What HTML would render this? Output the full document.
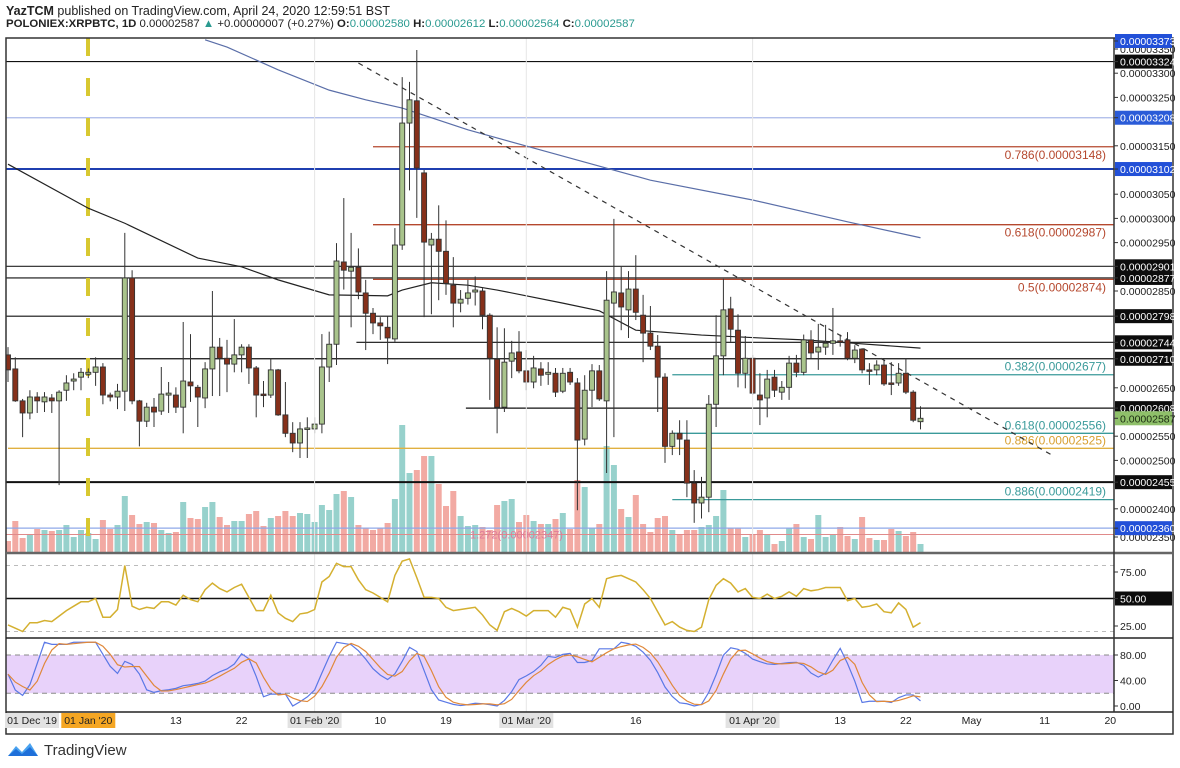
<!DOCTYPE html>
<html><head><meta charset="utf-8"><title>POLONIEX:XRPBTC 1D</title>
<style>
html,body{margin:0;padding:0;background:#fff;}
body{width:1180px;height:768px;overflow:hidden;position:relative;font-family:"Liberation Sans",sans-serif;}
#hdr1{position:absolute;left:6px;top:4px;font-size:12.5px;color:#222;white-space:nowrap;}
#hdr2{position:absolute;left:6px;top:18px;font-size:11.4px;color:#222;white-space:nowrap;}
.tl{color:#2a9a90;}
svg{position:absolute;left:0;top:0;}
#logo{position:absolute;left:6px;top:740px;font-size:15px;color:#333;display:flex;align-items:center;gap:4px;}
</style></head>
<body>
<div id="hdr1"><b>YazTCM</b> published on TradingView.com, April 24, 2020 12:59:51 BST</div>
<div id="hdr2"><b>POLONIEX:XRPBTC, 1D</b> 0.00002587 <span class="tl">▲</span> +0.00000007 (+0.27%) <b>O:</b><span class="tl">0.00002580</span> <b>H:</b><span class="tl">0.00002612</span> <b>L:</b><span class="tl">0.00002564</span> <b>C:</b><span class="tl">0.00002587</span></div>
<svg id="chart" width="1180" height="768"></svg>
<div id="logo">
<svg width="34" height="20" style="position:static"><path d="M2 16 L10 6 L16 12 L24 3 L32 16 Z" fill="#4aa3f0"/><path d="M2 16 L10 9 L16 14 L24 7 L32 16 Z" fill="#1e6fd9"/></svg><span>TradingView</span></div>
<script>
const opens=[2718,2689,2623,2598,2631,2621,2629,2623,2645,2664,2672,2678,2682,2693,2635,2631,2643,2877,2623,2581,2610,2602,2635,2635,2610,2662,2651,2629,2689,2734,2711,2699,2718,2734,2691,2637,2635,2687,2594,2556,2536,2565,2565,2575,2693,2740,2910,2891,2899,2846,2804,2784,2775,2751,2945,3197,3243,3094,2945,2957,2932,2862,2825,2835,2848,2850,2800,2709,2610,2705,2724,2685,2662,2689,2678,2680,2643,2682,2660,2544,2645,2685,2623,2825,2846,2811,2854,2800,2763,2736,2672,2529,2556,2542,2453,2412,2424,2616,2716,2813,2769,2680,2711,2635,2629,2672,2641,2651,2701,2682,2749,2724,2734,2742,2747,2749,2711,2730,2687,2687,2697,2660,2660,2680,2641,2580];
const highs=[2734,2713,2627,2645,2641,2641,2637,2645,2676,2680,2691,2690,2713,2701,2640,2658,2970,2893,2625,2619,2629,2693,2662,2651,2786,2761,2656,2703,2850,2753,2749,2792,2740,2740,2695,2664,2711,2689,2662,2579,2579,2589,2589,2761,2766,2949,3042,2970,2938,2873,2815,2796,2798,2980,3292,3282,3348,3100,2970,3027,2996,2920,2852,2873,2880,2856,2804,2775,2773,2747,2767,2728,2716,2703,2703,2691,2691,2691,2670,2676,2699,2697,2891,2999,2900,2891,2924,2842,2819,2759,2680,2562,2583,2583,2480,2466,2635,2800,2875,2838,2802,2757,2718,2680,2687,2687,2664,2716,2718,2760,2769,2782,2780,2815,2760,2765,2738,2732,2701,2707,2707,2703,2701,2711,2645,2612];
const lows=[2662,2621,2548,2585,2598,2600,2598,2449,2623,2645,2645,2670,2654,2616,2622,2606,2602,2616,2529,2569,2569,2594,2598,2598,2556,2621,2569,2608,2633,2633,2641,2682,2682,2658,2589,2610,2629,2592,2548,2517,2505,2505,2556,2556,2662,2697,2853,2775,2833,2728,2761,2749,2699,2745,2935,3058,3001,2796,2802,2831,2842,2775,2806,2822,2820,2771,2625,2556,2600,2670,2680,2645,2649,2654,2656,2631,2639,2656,2397,2531,2610,2623,2474,2548,2769,2753,2790,2703,2728,2600,2495,2511,2511,2424,2371,2380,2393,2569,2676,2745,2651,2649,2635,2573,2589,2631,2625,2625,2672,2676,2711,2687,2718,2718,2735,2707,2701,2680,2656,2676,2654,2635,2654,2637,2579,2564];
const closes=[2687,2623,2598,2631,2623,2631,2623,2641,2660,2668,2682,2682,2693,2635,2631,2643,2877,2623,2581,2610,2600,2637,2639,2610,2664,2654,2631,2689,2734,2711,2699,2718,2734,2691,2635,2635,2687,2594,2556,2536,2565,2567,2575,2693,2740,2912,2893,2899,2848,2804,2784,2778,2753,2945,3197,3245,3104,2951,2957,2932,2866,2825,2833,2846,2852,2800,2711,2610,2703,2722,2685,2662,2691,2676,2682,2641,2680,2662,2542,2645,2685,2627,2831,2848,2817,2854,2806,2763,2736,2672,2529,2556,2544,2453,2412,2424,2616,2716,2811,2771,2680,2711,2639,2625,2668,2645,2651,2701,2682,2749,2722,2734,2742,2747,2745,2711,2728,2687,2685,2697,2658,2658,2680,2641,2583,2587];
const volumes=[12,32,15,19,24,23,22,23,28,16,23,20,14,33,24,28,57,38,29,31,30,23,20,21,51,35,34,46,51,36,28,32,32,39,42,27,35,37,42,37,40,39,31,48,43,59,62,56,28,25,23,25,30,54,128,80,83,97,97,69,47,62,37,27,28,26,23,48,52,54,31,38,32,29,29,34,40,24,73,66,25,29,107,88,44,36,58,29,21,35,37,23,18,23,23,26,28,37,63,25,25,16,19,23,19,9,12,25,29,16,14,38,16,18,26,17,14,36,15,13,13,24,22,17,21,9];
const rsiValues=[26,23,20,28,28,30,29,34,39,43,47,47,50,33,33,40,80,43,40,42,41,47,47,44,53,49,47,58,64,59,56,60,63,51,39,39,53,37,32,29,36,37,40,65,70,82,79,79,67,58,55,51,47,71,84,86,69,51,51,50,42,39,40,41,42,35,26,21,38,41,38,34,39,39,39,33,42,40,24,45,50,42,68,70,71,68,65,58,50,38,26,29,24,21,20,24,49,62,68,64,56,59,51,50,54,50,52,56,52,59,57,58,60,60,60,48,50,42,43,45,38,37,46,40,24,28];
const ma200Idx=[27,30,37,44,49,54,63,74,88,102,115,125];
const ma200Val=[3369,3354,3307,3265,3245,3228,3183,3137,3079,3038,2993,2960];
const ma100Idx=[0,11,16,26,32,37,44,52,54,58,63,67,76,81,86,95,103,109,115,125];
const ma100Val=[3112,3021,2990,2918,2900,2873,2842,2840,2852,2867,2862,2852,2825,2809,2769,2759,2753,2749,2743,2732];
const priceTicks=[3350,3300,3250,3150,3050,3000,2950,2850,2650,2550,2500,2400,2350];
const levelPrices=[3324,3208,3102,2901,2877,2798,2744,2710,2608,2455,2360];
const levelStart=[0,0,0,0,0,0,48,0,63,0,0];
const levelKind=['black','lightblue','blue','dark','black','black','black','black','black','black','blue'];
const fibLabels=['0.786(0.00003148)','0.618(0.00002987)','0.5(0.00002874)','0.382(0.00002677)','0.618(0.00002556)','0.886(0.00002525)','0.886(0.00002419)'];
const fibPrices=[3148,2987,2874,2677,2556,2525,2419];
const fibStart=[50,50,50,91,91,0,91];
const fibColor=['#b5482e','#b5482e','#b5482e','#3a9a9a','#3a9a9a','#e0b040','#3a9a9a'];
const timeLabels=["01 Dec '19","01 Jan '20","13","22","01 Feb '20","10","19","01 Mar '20","16","01 Apr '20","13","22","May","11","20"];
const timeIdx=[-1,11,23,32,42,51,60,71,86,102,114,123,132,142,151];
const rsiTicks=[75,50,25];
const stochTicks=[80,40,0];
const trendIdx=[48,143];
const trendVal=[3321,2511];

const NS='http://www.w3.org/2000/svg';
const svg=document.getElementById('chart');
const PL=6,PR=1114,AXR=1173,TOP=38,MAINB=553,RSIB=638,STB=712,BOT=734;
const xOf=i=>8+7.3*i;
const yOf=p=>49+(3350-p)*0.484;
const yRsi=v=>598.5-(v-50)*1.1;
const ySt=v=>706-v*0.6375;
function mk(tag,attrs,parent){const e=document.createElementNS(NS,tag);for(const k in attrs)e.setAttribute(k,attrs[k]);(parent||svg).appendChild(e);return e;}

const defs=mk('defs',{});
const cp=mk('clipPath',{id:'mainclip'},defs);mk('rect',{x:PL,y:TOP,width:PR-PL,height:MAINB-TOP},cp);
const cp2=mk('clipPath',{id:'rsiclip'},defs);mk('rect',{x:PL,y:MAINB,width:PR-PL,height:RSIB-MAINB},cp2);
const cp3=mk('clipPath',{id:'stclip'},defs);mk('rect',{x:PL,y:RSIB,width:PR-PL,height:STB-RSIB},cp3);
const gMain=mk('g',{'clip-path':'url(#mainclip)'});



[42,71,102].forEach(i=>{const l=mk('line',{x1:xOf(i),x2:xOf(i),y1:TOP,y2:STB,stroke:'#e6e6e6','stroke-width':1});

});

const gVol=mk('g',{},gMain);


volumes.forEach((v,i)=>{const up=closes[i]>=opens[i];
const r=mk('rect',{x:xOf(i)-3,y:MAINB-v,width:6,height:v,fill:up?'#97d1cc':'#f2aaa3'},gVol);

});

levelPrices.forEach((p,k)=>{const col={black:'#111',dark:'#222',blue:'#1f3fb0',lightblue:'#aab8e8'}[levelKind[k]];
const w=(p===2455)?2:(levelKind[k]==='blue'&&p!==2360?2:1.2);
const l=mk('line',{x1:xOf(levelStart[k])-2,x2:PR,y1:yOf(p),y2:yOf(p),stroke:p===2360?'#8fa8e8':col,'stroke-width':w},gMain);

});
const l1272=mk('line',{x1:PL,x2:PR,y1:yOf(2347),y2:yOf(2347),stroke:'#e08a8a','stroke-width':1},gMain);


const t1272=mk('text',{x:470,y:yOf(2347)+4,'font-size':11,fill:'#e07a9a'},gMain);t1272.textContent='1.272(0.00002347)';



fibPrices.forEach((p,k)=>{const y=yOf(p);
const l=mk('line',{x1:xOf(fibStart[k]),x2:PR,y1:y,y2:y,stroke:fibColor[k],'stroke-width':1.3},gMain);


const below=fibColor[k]==='#b5482e';
const t=mk('text',{x:PR-8,y:below?y+12:y-4,'font-size':12,fill:fibColor[k]==='#e0b040'?'#d8a030':fibColor[k],'text-anchor':'end'},gMain);t.textContent=fibLabels[k];

});

const vd=mk('line',{x1:88,x2:88,y1:TOP,y2:MAINB,stroke:'#d8c830','stroke-width':4,'stroke-dasharray':'18 22'},gMain);



function poly(idx,val,col,name){const pts=idx.map((i,k)=>xOf(i)+','+yOf(val[k])).join(' ');
const pl=mk('polyline',{points:pts,fill:'none',stroke:col,'stroke-width':1.2},gMain);

}
poly(ma200Idx,ma200Val,'#5a6ea8','ma-200-line');
poly(ma100Idx,ma100Val,'#222','ma-100-line');

const tr=mk('line',{x1:xOf(trendIdx[0]),y1:yOf(trendVal[0]),x2:xOf(trendIdx[1]),y2:yOf(trendVal[1]),stroke:'#333','stroke-width':1.2,'stroke-dasharray':'5 5'},gMain);



const gC=mk('g',{},gMain);


opens.forEach((o,i)=>{const c=closes[i],x=xOf(i),up=c>=o;
const w=mk('line',{x1:x,x2:x,y1:yOf(highs[i]),y2:yOf(lows[i]),stroke:'#333','stroke-width':1},gC);


const yt=yOf(Math.max(o,c)),yb=yOf(Math.min(o,c));
const b=mk('rect',{x:x-2.5,y:yt,width:5,height:Math.max(1.5,yb-yt),fill:up?'#a9c48c':'#86301a',stroke:'#333','stroke-width':0.9},gC);

});

// Stochastic RSI derived from RSI values
const stochRaw=rsiValues.map((v,i)=>{const w=rsiValues.slice(Math.max(0,i-13),i+1);const mn=Math.min(...w),mx=Math.max(...w);return mx===mn?50:(v-mn)/(mx-mn)*100;});
const sma=(a,n)=>a.map((v,i)=>{const w=a.slice(Math.max(0,i-n+1),i+1);return w.reduce((s,x)=>s+x,0)/w.length;});
const kLine=sma(stochRaw,3),dLine=sma(kLine,3);

const gR=mk('g',{'clip-path':'url(#rsiclip)'});


[80,20].forEach(v=>{const l=mk('line',{x1:PL,x2:PR,y1:yRsi(v),y2:yRsi(v),stroke:'#bbb','stroke-dasharray':'4 4'},gR);

});
const r50=mk('line',{x1:PL,x2:PR,y1:yRsi(50),y2:yRsi(50),stroke:'#111','stroke-width':1.5},gR);


const rl=mk('polyline',{points:rsiValues.map((v,i)=>xOf(i)+','+yRsi(v)).join(' '),fill:'none',stroke:'#d4b030','stroke-width':1.5},gR);



const gS=mk('g',{'clip-path':'url(#stclip)'});


const band=mk('rect',{x:PL,y:ySt(80),width:PR-PL,height:ySt(20)-ySt(80),fill:'#e8d2fa'},gS);


[80,20].forEach(v=>{const l=mk('line',{x1:PL,x2:PR,y1:ySt(v),y2:ySt(v),stroke:'#888','stroke-dasharray':'5 4'},gS);

});
const kl=mk('polyline',{points:kLine.map((v,i)=>xOf(i)+','+ySt(v)).join(' '),fill:'none',stroke:'#5a78e6','stroke-width':1.2},gS);


const dl=mk('polyline',{points:dLine.map((v,i)=>xOf(i)+','+ySt(v)).join(' '),fill:'none',stroke:'#e0883a','stroke-width':1.2},gS);



const fr=mk('rect',{x:PL,y:TOP,width:AXR-PL,height:BOT-TOP,fill:'none',stroke:'#333','stroke-width':1.5});


[[MAINB,2.5,'#666'],[RSIB,1.5,'#222'],[STB,1.5,'#222']].forEach(([y,w,c])=>{const l=mk('line',{x1:PL,x2:AXR,y1:y,y2:y,stroke:c,'stroke-width':w});

});
const ax=mk('line',{x1:PR,x2:PR,y1:TOP,y2:STB,stroke:'#333','stroke-width':1.5});



function axisLabel(y,txt,bg,fg,name){
if(bg){const r=mk('rect',{x:PR+1,y:y-7,width:AXR-PR-2,height:14,fill:bg});

}
const tk=mk('line',{x1:PR,x2:PR+4,y1:y,y2:y,stroke:'#333'});


const t=mk('text',{x:PR+6,y:y+4,'font-size':10.5,fill:fg});t.textContent=txt;

}
const fmt=p=>'0.0000'+p;
priceTicks.forEach(p=>axisLabel(p===2350?537:yOf(p),fmt(p),null,'#222','price-tick-label'));
levelPrices.forEach((p,k)=>{const bg=levelKind[k]==='blue'?'#2250d8':(levelKind[k]==='lightblue'?'#2a5bd8':'#0c0c0c');
axisLabel(yOf(p),fmt(p),bg,'#fff','level-price-label');});
axisLabel(41,'0.00003373','#2250d8','#fff','top-price-label');
axisLabel(yOf(2587),fmt(2587),'#8fc06a','#1a2a10','last-price-label');

rsiTicks.forEach(v=>axisLabel(yRsi(v)-(v===75?-1:0),v.toFixed(2),v===50?'#0c0c0c':null,v===50?'#fff':'#222','rsi-tick-label'));
stochTicks.forEach(v=>axisLabel(ySt(v),v.toFixed(2),null,'#222','stoch-tick-label'));

timeLabels.forEach((s,k)=>{let x=xOf(timeIdx[k]);if(k===0)x=32;
const big=s.length>3;
if(big){const bg=k===1?'#f5a623':'#e2e2e2';const r=mk('rect',{x:x-27,y:713,width:54,height:15,fill:bg});

}
const t=mk('text',{x:x,y:724,'font-size':10.5,fill:'#222','text-anchor':'middle'});t.textContent=s;

});
</script>
</body></html>
